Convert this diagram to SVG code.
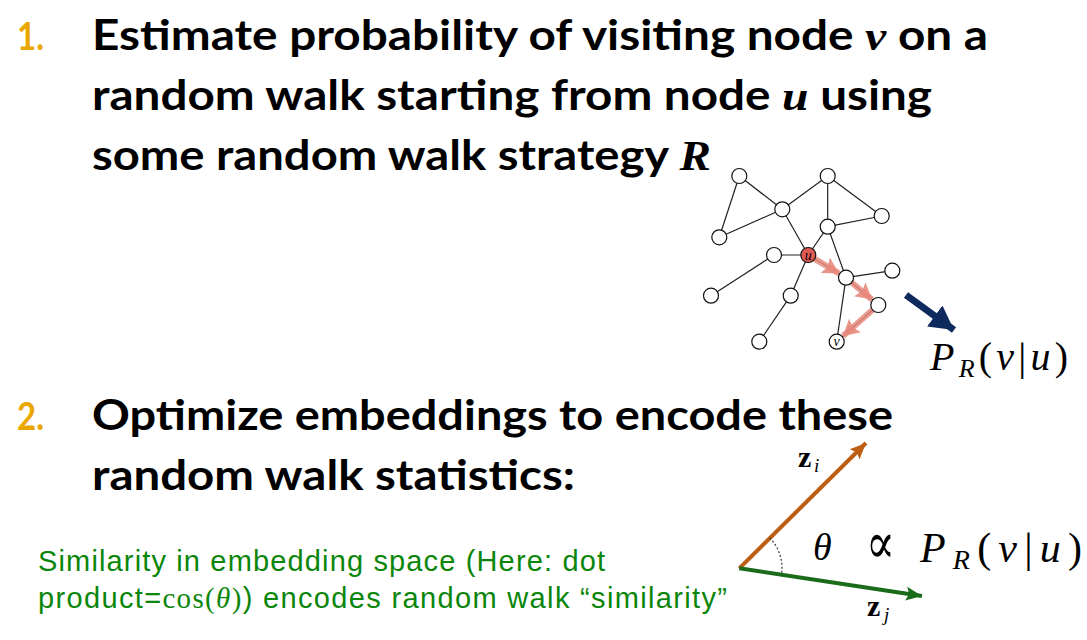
<svg xmlns="http://www.w3.org/2000/svg" width="1087" height="640" viewBox="0 0 1087 640">
<style>
.title{font-family:Lato,"Open Sans","Liberation Sans",sans-serif;font-weight:700;font-size:42px;fill:#000}
.num{font-family:Lato,"Open Sans","Liberation Sans",sans-serif;font-weight:700;font-size:38px;fill:#eaa700}
.mi{font-family:"Liberation Serif","DejaVu Serif",serif;font-style:italic}
.green{font-family:"Liberation Sans",Arial,sans-serif;font-size:29px;fill:#0a860a}
.math{font-family:"Liberation Serif","DejaVu Serif",serif;fill:#000}
.edge{stroke:#222;stroke-width:1.2;fill:none}
.node{fill:#fff;stroke:#111;stroke-width:1.2}
.walk{stroke:#e88a7c;stroke-width:6;stroke-opacity:0.85;fill:none}
</style>
<defs>
<marker id="mWalk" markerUnits="userSpaceOnUse" markerWidth="18" markerHeight="20" refX="16" refY="9" orient="auto" viewBox="0 0 18 18">
<path d="M0,0 L16,9 L0,18 L3,9 Z" fill="#e88a7c" fill-opacity="0.9"/>
</marker>
<marker id="mNavy" markerUnits="userSpaceOnUse" markerWidth="26" markerHeight="26" refX="22" refY="12" orient="auto" viewBox="0 0 24 24">
<path d="M0,0 L22,12 L0,24 Z" fill="#0f2a5c"/>
</marker>
<marker id="mOrange" markerUnits="userSpaceOnUse" markerWidth="18" markerHeight="16" refX="16" refY="7" orient="auto" viewBox="0 0 18 14">
<path d="M0,0 L16,7 L0,14 L3,7 Z" fill="#bd5e12"/>
</marker>
<marker id="mGreen" markerUnits="userSpaceOnUse" markerWidth="18" markerHeight="16" refX="16" refY="7" orient="auto" viewBox="0 0 18 14">
<path d="M0,0 L16,7 L0,14 L3,7 Z" fill="#1a6b1a"/>
</marker>
</defs>
<rect width="1087" height="640" fill="#fff"/>

<g id="text1">
<text class="num" x="17" y="50" textLength="27" lengthAdjust="spacingAndGlyphs">1.</text>
<text class="title" x="92" y="50" textLength="896" lengthAdjust="spacingAndGlyphs">Estimate probability of visiting node <tspan class="mi">v</tspan> on a</text>
<text class="title" x="92" y="110" textLength="840" lengthAdjust="spacingAndGlyphs">random walk starting from node <tspan class="mi">u</tspan> using</text>
<text class="title" x="92" y="170" textLength="619" lengthAdjust="spacingAndGlyphs">some random walk strategy <tspan class="mi" font-weight="700">R</tspan></text>
</g>

<g id="text2">
<text class="num" x="17" y="430" textLength="27" lengthAdjust="spacingAndGlyphs">2.</text>
<text class="title" x="92" y="430" textLength="801" lengthAdjust="spacingAndGlyphs">Optimize embeddings to encode these</text>
<text class="title" x="92" y="490" textLength="483" lengthAdjust="spacingAndGlyphs">random walk statistics:</text>
</g>

<g id="caption">
<text class="green" x="38" y="571" textLength="567">Similarity in embedding space (Here: dot</text>
<text class="green" x="38" y="608" textLength="689">product=<tspan font-family="Liberation Serif,serif">cos(</tspan><tspan font-family="Liberation Serif,serif" font-style="italic">θ</tspan><tspan font-family="Liberation Serif,serif">)</tspan>) encodes random walk “similarity”</text>
</g>

<g id="connectors">
<line class="edge" x1="739.3" y1="176" x2="782.3" y2="209.3"/>
<line class="edge" x1="739.3" y1="176" x2="719.3" y2="237.3"/>
<line class="edge" x1="782.3" y1="209.3" x2="719.3" y2="237.3"/>
<line class="edge" x1="827.7" y1="176" x2="782.3" y2="209.3"/>
<line class="edge" x1="827.7" y1="176" x2="827.7" y2="226.7"/>
<line class="edge" x1="827.7" y1="176" x2="881.7" y2="216"/>
<line class="edge" x1="827.7" y1="226.7" x2="881.7" y2="216"/>
<line class="edge" x1="782.3" y1="209.3" x2="808.3" y2="255"/>
<line class="edge" x1="827.7" y1="226.7" x2="808.3" y2="255"/>
<line class="edge" x1="827.7" y1="226.7" x2="846" y2="277.7"/>
<line class="edge" x1="774" y1="255" x2="808.3" y2="255"/>
<line class="edge" x1="808.3" y1="255" x2="790.7" y2="295.7"/>
<line class="edge" x1="790.7" y1="295.7" x2="759.3" y2="341.7"/>
<line class="edge" x1="774" y1="255" x2="711" y2="295.7"/>
<line class="edge" x1="846" y1="277.7" x2="892.3" y2="270.7"/>
<line class="edge" x1="846" y1="277.7" x2="878.3" y2="305"/>
<line class="edge" x1="846" y1="277.7" x2="836.7" y2="341.7"/>
<line class="edge" x1="878.3" y1="305" x2="836.7" y2="341.7"/>
<line class="edge" x1="808.3" y1="255" x2="846" y2="277.7"/>
<line class="walk" x1="814.3" y1="258.6" x2="839" y2="273.4" marker-end="url(#mWalk)"/>
<line class="walk" x1="851.4" y1="282.2" x2="872" y2="299.6" marker-end="url(#mWalk)"/>
<line class="walk" x1="873" y1="309.6" x2="843" y2="336" marker-end="url(#mWalk)"/>
<line x1="906" y1="295" x2="954" y2="330" stroke="#0f2a5c" stroke-width="7" marker-end="url(#mNavy)"/>
<line x1="739.3" y1="568.3" x2="866" y2="443" stroke="#bd5e12" stroke-width="4" marker-end="url(#mOrange)"/>
<line x1="739.3" y1="568.3" x2="922" y2="596" stroke="#1a6b1a" stroke-width="4" marker-end="url(#mGreen)"/>
<path d="M769.7,537.9 A43,43 0 0 1 781.5,574.5" fill="none" stroke="#333" stroke-width="1.2" stroke-dasharray="2,2"/>
</g>

<g id="nodes">
<circle id="nA" class="node" cx="739.3" cy="176" r="7.5"/>
<circle id="nB" class="node" cx="827.7" cy="176" r="7.5"/>
<circle id="nC" class="node" cx="782.3" cy="209.3" r="7.5"/>
<circle id="nD" class="node" cx="881.7" cy="216" r="7.5"/>
<circle id="nE" class="node" cx="827.7" cy="226.7" r="7.5"/>
<circle id="nF" class="node" cx="719.3" cy="237.3" r="7.5"/>
<circle id="nG" class="node" cx="774" cy="255" r="7.5"/>
<g id="nU"><circle cx="808.3" cy="255" r="7.5" fill="#e05a55" stroke="#111" stroke-width="1.2"/>
<text x="808.3" y="259.5" text-anchor="middle" class="math" font-style="italic" font-size="14">u</text></g>
<circle id="nH" class="node" cx="846" cy="277.7" r="7.5"/>
<circle id="nI" class="node" cx="892.3" cy="270.7" r="7.5"/>
<circle id="nJ" class="node" cx="711" cy="295.7" r="7.5"/>
<circle id="nK" class="node" cx="790.7" cy="295.7" r="7.5"/>
<circle id="nL" class="node" cx="878.3" cy="305" r="7.5"/>
<circle id="nM" class="node" cx="759.3" cy="341.7" r="7.5"/>
<g id="nV"><circle cx="836.7" cy="341.7" r="7.5" fill="#fff" stroke="#111" stroke-width="1.2"/>
<text x="836.7" y="346" text-anchor="middle" class="math" font-style="italic" font-size="14">v</text></g>
</g>

<g id="prob1">
<text class="math" x="930" y="370" font-size="40" textLength="138"><tspan font-style="italic">P</tspan><tspan font-style="italic" font-size="26" dy="7">R</tspan><tspan dy="-7">(</tspan><tspan font-style="italic">v</tspan>|<tspan font-style="italic">u</tspan>)</text>
</g>

<g id="vectors-labels">
<text class="math" x="798" y="467" font-size="30" font-weight="700">z</text>
<text class="math" x="814" y="472" font-size="19" font-style="italic">i</text>
<text class="math" x="867" y="616" font-size="30" font-weight="700">z</text>
<text class="math" x="884" y="621" font-size="19" font-style="italic">j</text>
<text class="math" x="813" y="560" font-size="38" font-style="italic">θ</text>
<text class="math" x="866" y="563" font-size="58" textLength="29" lengthAdjust="spacingAndGlyphs">∝</text>
<text class="math" x="920" y="562" font-size="42" textLength="162"><tspan font-style="italic">P</tspan><tspan font-style="italic" font-size="28" dy="7">R</tspan><tspan dy="-7">(</tspan><tspan font-style="italic">v</tspan>|<tspan font-style="italic">u</tspan>)</text>
</g>
</svg>
